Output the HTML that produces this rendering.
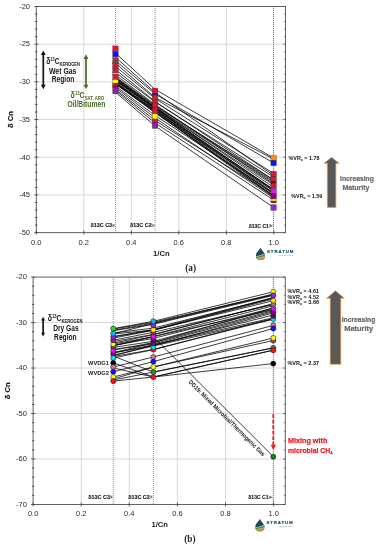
<!DOCTYPE html>
<html lang="en"><head><meta charset="utf-8"><title>Figure</title>
<style>html,body{margin:0;padding:0;background:#fff}svg{display:block}text{font-family:'Liberation Sans', sans-serif}</style>
</head><body>
<svg width="381" height="550" viewBox="0 0 381 550">
<rect width="381" height="550" fill="#fff"/>
<line x1="36.3" x2="285.5" y1="44.18" y2="44.18" stroke="#c8c8c8" stroke-width="0.7"/>
<line x1="36.3" x2="285.5" y1="81.87" y2="81.87" stroke="#c8c8c8" stroke-width="0.7"/>
<line x1="36.3" x2="285.5" y1="119.55" y2="119.55" stroke="#c8c8c8" stroke-width="0.7"/>
<line x1="36.3" x2="285.5" y1="157.23" y2="157.23" stroke="#c8c8c8" stroke-width="0.7"/>
<line x1="36.3" x2="285.5" y1="194.92" y2="194.92" stroke="#c8c8c8" stroke-width="0.7"/>
<line x1="83.80" x2="83.80" y1="6.5" y2="232.6" stroke="#c8c8c8" stroke-width="0.7"/>
<line x1="131.30" x2="131.30" y1="6.5" y2="232.6" stroke="#c8c8c8" stroke-width="0.7"/>
<line x1="178.80" x2="178.80" y1="6.5" y2="232.6" stroke="#c8c8c8" stroke-width="0.7"/>
<line x1="226.30" x2="226.30" y1="6.5" y2="232.6" stroke="#c8c8c8" stroke-width="0.7"/>
<line x1="273.80" x2="273.80" y1="6.5" y2="232.6" stroke="#c8c8c8" stroke-width="0.7"/>
<line x1="115.47" x2="115.47" y1="6.5" y2="232.6" stroke="#4a4a4a" stroke-width="0.62" stroke-dasharray="1 1" stroke-dashoffset="0.50"/>
<line x1="155.05" x2="155.05" y1="6.5" y2="232.6" stroke="#4a4a4a" stroke-width="0.62" stroke-dasharray="1 1" stroke-dashoffset="0.50"/>
<line x1="273.50" x2="273.50" y1="6.5" y2="232.6" stroke="#4a4a4a" stroke-width="0.62" stroke-dasharray="1 1" stroke-dashoffset="0.50"/>
<path d="M36.3 6.5H285.5V232.6H36.3Z" fill="none" stroke="#3a3a3a" stroke-width="0.8"/>
<line x1="34.3" x2="38.3" y1="6.50" y2="6.50" stroke="#3a3a3a" stroke-width="0.8"/>
<line x1="283.5" x2="285.5" y1="6.50" y2="6.50" stroke="#3a3a3a" stroke-width="0.8"/>
<text x="30.0" y="8.8" font-size="7.5" text-anchor="end" font-weight="normal" fill="#2b2b2b" >-20</text>
<line x1="35.099999999999994" x2="37.5" y1="14.04" y2="14.04" stroke="#3a3a3a" stroke-width="0.8"/>
<line x1="284.3" x2="285.5" y1="14.04" y2="14.04" stroke="#3a3a3a" stroke-width="0.8"/>
<line x1="35.099999999999994" x2="37.5" y1="21.57" y2="21.57" stroke="#3a3a3a" stroke-width="0.8"/>
<line x1="284.3" x2="285.5" y1="21.57" y2="21.57" stroke="#3a3a3a" stroke-width="0.8"/>
<line x1="35.099999999999994" x2="37.5" y1="29.11" y2="29.11" stroke="#3a3a3a" stroke-width="0.8"/>
<line x1="284.3" x2="285.5" y1="29.11" y2="29.11" stroke="#3a3a3a" stroke-width="0.8"/>
<line x1="35.099999999999994" x2="37.5" y1="36.65" y2="36.65" stroke="#3a3a3a" stroke-width="0.8"/>
<line x1="284.3" x2="285.5" y1="36.65" y2="36.65" stroke="#3a3a3a" stroke-width="0.8"/>
<line x1="34.3" x2="38.3" y1="44.18" y2="44.18" stroke="#3a3a3a" stroke-width="0.8"/>
<line x1="283.5" x2="285.5" y1="44.18" y2="44.18" stroke="#3a3a3a" stroke-width="0.8"/>
<text x="30.0" y="46.48333333333333" font-size="7.5" text-anchor="end" font-weight="normal" fill="#2b2b2b" >-25</text>
<line x1="35.099999999999994" x2="37.5" y1="51.72" y2="51.72" stroke="#3a3a3a" stroke-width="0.8"/>
<line x1="284.3" x2="285.5" y1="51.72" y2="51.72" stroke="#3a3a3a" stroke-width="0.8"/>
<line x1="35.099999999999994" x2="37.5" y1="59.26" y2="59.26" stroke="#3a3a3a" stroke-width="0.8"/>
<line x1="284.3" x2="285.5" y1="59.26" y2="59.26" stroke="#3a3a3a" stroke-width="0.8"/>
<line x1="35.099999999999994" x2="37.5" y1="66.79" y2="66.79" stroke="#3a3a3a" stroke-width="0.8"/>
<line x1="284.3" x2="285.5" y1="66.79" y2="66.79" stroke="#3a3a3a" stroke-width="0.8"/>
<line x1="35.099999999999994" x2="37.5" y1="74.33" y2="74.33" stroke="#3a3a3a" stroke-width="0.8"/>
<line x1="284.3" x2="285.5" y1="74.33" y2="74.33" stroke="#3a3a3a" stroke-width="0.8"/>
<line x1="34.3" x2="38.3" y1="81.87" y2="81.87" stroke="#3a3a3a" stroke-width="0.8"/>
<line x1="283.5" x2="285.5" y1="81.87" y2="81.87" stroke="#3a3a3a" stroke-width="0.8"/>
<text x="30.0" y="84.16666666666666" font-size="7.5" text-anchor="end" font-weight="normal" fill="#2b2b2b" >-30</text>
<line x1="35.099999999999994" x2="37.5" y1="89.40" y2="89.40" stroke="#3a3a3a" stroke-width="0.8"/>
<line x1="284.3" x2="285.5" y1="89.40" y2="89.40" stroke="#3a3a3a" stroke-width="0.8"/>
<line x1="35.099999999999994" x2="37.5" y1="96.94" y2="96.94" stroke="#3a3a3a" stroke-width="0.8"/>
<line x1="284.3" x2="285.5" y1="96.94" y2="96.94" stroke="#3a3a3a" stroke-width="0.8"/>
<line x1="35.099999999999994" x2="37.5" y1="104.48" y2="104.48" stroke="#3a3a3a" stroke-width="0.8"/>
<line x1="284.3" x2="285.5" y1="104.48" y2="104.48" stroke="#3a3a3a" stroke-width="0.8"/>
<line x1="35.099999999999994" x2="37.5" y1="112.01" y2="112.01" stroke="#3a3a3a" stroke-width="0.8"/>
<line x1="284.3" x2="285.5" y1="112.01" y2="112.01" stroke="#3a3a3a" stroke-width="0.8"/>
<line x1="34.3" x2="38.3" y1="119.55" y2="119.55" stroke="#3a3a3a" stroke-width="0.8"/>
<line x1="283.5" x2="285.5" y1="119.55" y2="119.55" stroke="#3a3a3a" stroke-width="0.8"/>
<text x="30.0" y="121.85" font-size="7.5" text-anchor="end" font-weight="normal" fill="#2b2b2b" >-35</text>
<line x1="35.099999999999994" x2="37.5" y1="127.09" y2="127.09" stroke="#3a3a3a" stroke-width="0.8"/>
<line x1="284.3" x2="285.5" y1="127.09" y2="127.09" stroke="#3a3a3a" stroke-width="0.8"/>
<line x1="35.099999999999994" x2="37.5" y1="134.62" y2="134.62" stroke="#3a3a3a" stroke-width="0.8"/>
<line x1="284.3" x2="285.5" y1="134.62" y2="134.62" stroke="#3a3a3a" stroke-width="0.8"/>
<line x1="35.099999999999994" x2="37.5" y1="142.16" y2="142.16" stroke="#3a3a3a" stroke-width="0.8"/>
<line x1="284.3" x2="285.5" y1="142.16" y2="142.16" stroke="#3a3a3a" stroke-width="0.8"/>
<line x1="35.099999999999994" x2="37.5" y1="149.70" y2="149.70" stroke="#3a3a3a" stroke-width="0.8"/>
<line x1="284.3" x2="285.5" y1="149.70" y2="149.70" stroke="#3a3a3a" stroke-width="0.8"/>
<line x1="34.3" x2="38.3" y1="157.23" y2="157.23" stroke="#3a3a3a" stroke-width="0.8"/>
<line x1="283.5" x2="285.5" y1="157.23" y2="157.23" stroke="#3a3a3a" stroke-width="0.8"/>
<text x="30.0" y="159.53333333333333" font-size="7.5" text-anchor="end" font-weight="normal" fill="#2b2b2b" >-40</text>
<line x1="35.099999999999994" x2="37.5" y1="164.77" y2="164.77" stroke="#3a3a3a" stroke-width="0.8"/>
<line x1="284.3" x2="285.5" y1="164.77" y2="164.77" stroke="#3a3a3a" stroke-width="0.8"/>
<line x1="35.099999999999994" x2="37.5" y1="172.31" y2="172.31" stroke="#3a3a3a" stroke-width="0.8"/>
<line x1="284.3" x2="285.5" y1="172.31" y2="172.31" stroke="#3a3a3a" stroke-width="0.8"/>
<line x1="35.099999999999994" x2="37.5" y1="179.84" y2="179.84" stroke="#3a3a3a" stroke-width="0.8"/>
<line x1="284.3" x2="285.5" y1="179.84" y2="179.84" stroke="#3a3a3a" stroke-width="0.8"/>
<line x1="35.099999999999994" x2="37.5" y1="187.38" y2="187.38" stroke="#3a3a3a" stroke-width="0.8"/>
<line x1="284.3" x2="285.5" y1="187.38" y2="187.38" stroke="#3a3a3a" stroke-width="0.8"/>
<line x1="34.3" x2="38.3" y1="194.92" y2="194.92" stroke="#3a3a3a" stroke-width="0.8"/>
<line x1="283.5" x2="285.5" y1="194.92" y2="194.92" stroke="#3a3a3a" stroke-width="0.8"/>
<text x="30.0" y="197.21666666666667" font-size="7.5" text-anchor="end" font-weight="normal" fill="#2b2b2b" >-45</text>
<line x1="35.099999999999994" x2="37.5" y1="202.45" y2="202.45" stroke="#3a3a3a" stroke-width="0.8"/>
<line x1="284.3" x2="285.5" y1="202.45" y2="202.45" stroke="#3a3a3a" stroke-width="0.8"/>
<line x1="35.099999999999994" x2="37.5" y1="209.99" y2="209.99" stroke="#3a3a3a" stroke-width="0.8"/>
<line x1="284.3" x2="285.5" y1="209.99" y2="209.99" stroke="#3a3a3a" stroke-width="0.8"/>
<line x1="35.099999999999994" x2="37.5" y1="217.53" y2="217.53" stroke="#3a3a3a" stroke-width="0.8"/>
<line x1="284.3" x2="285.5" y1="217.53" y2="217.53" stroke="#3a3a3a" stroke-width="0.8"/>
<line x1="35.099999999999994" x2="37.5" y1="225.06" y2="225.06" stroke="#3a3a3a" stroke-width="0.8"/>
<line x1="284.3" x2="285.5" y1="225.06" y2="225.06" stroke="#3a3a3a" stroke-width="0.8"/>
<line x1="34.3" x2="38.3" y1="232.60" y2="232.60" stroke="#3a3a3a" stroke-width="0.8"/>
<line x1="283.5" x2="285.5" y1="232.60" y2="232.60" stroke="#3a3a3a" stroke-width="0.8"/>
<text x="30.0" y="234.9" font-size="7.5" text-anchor="end" font-weight="normal" fill="#2b2b2b" >-50</text>
<line x1="36.30" x2="36.30" y1="230.6" y2="234.6" stroke="#3a3a3a" stroke-width="0.8"/>
<text x="36.30" y="244.5" font-size="7.5" text-anchor="middle" font-weight="normal" fill="#2b2b2b" >0.0</text>
<line x1="83.80" x2="83.80" y1="230.6" y2="234.6" stroke="#3a3a3a" stroke-width="0.8"/>
<text x="83.80" y="244.5" font-size="7.5" text-anchor="middle" font-weight="normal" fill="#2b2b2b" >0.2</text>
<line x1="131.30" x2="131.30" y1="230.6" y2="234.6" stroke="#3a3a3a" stroke-width="0.8"/>
<text x="131.30" y="244.5" font-size="7.5" text-anchor="middle" font-weight="normal" fill="#2b2b2b" >0.4</text>
<line x1="178.80" x2="178.80" y1="230.6" y2="234.6" stroke="#3a3a3a" stroke-width="0.8"/>
<text x="178.80" y="244.5" font-size="7.5" text-anchor="middle" font-weight="normal" fill="#2b2b2b" >0.6</text>
<line x1="226.30" x2="226.30" y1="230.6" y2="234.6" stroke="#3a3a3a" stroke-width="0.8"/>
<text x="226.30" y="244.5" font-size="7.5" text-anchor="middle" font-weight="normal" fill="#2b2b2b" >0.8</text>
<line x1="273.80" x2="273.80" y1="230.6" y2="234.6" stroke="#3a3a3a" stroke-width="0.8"/>
<text x="273.80" y="244.5" font-size="7.5" text-anchor="middle" font-weight="normal" fill="#2b2b2b" >1.0</text>
<g fill="none" stroke="#050505" stroke-width="0.78" stroke-linejoin="round">
<path d="M115.5 53.0L155.1 89.4L273.6 158.0"/>
<path d="M115.5 57.3L155.1 92.5L273.6 175.5"/>
<path d="M115.5 60.7L155.1 94.0L273.6 163.0"/>
<path d="M115.5 63.3L155.1 97.5L273.6 159.0"/>
<path d="M115.5 66.5L155.1 98.5L273.6 173.5"/>
<path d="M115.5 69.5L155.1 101.5L273.6 180.0"/>
<path d="M115.5 72.5L155.1 102.0L273.6 177.0"/>
<path d="M115.5 75.0L155.1 104.5L273.6 184.0"/>
<path d="M115.5 86.0L155.1 115.5L273.6 193.0"/>
<path d="M115.5 87.5L155.1 118.0L273.6 198.0"/>
<path d="M115.5 89.3L155.1 120.5L273.6 195.5"/>
<path d="M115.5 90.6L155.1 123.0L273.6 200.0"/>
<path d="M115.5 92.3L155.1 126.0L273.6 207.5"/>
<path d="M115.5 76.9L155.1 105.4L273.6 181.4"/>
<path d="M115.5 77.8L155.1 106.1L273.6 179.9"/>
<path d="M115.5 77.6L155.1 107.1L273.6 182.4"/>
<path d="M115.5 78.3L155.1 107.9L273.6 185.0"/>
<path d="M115.5 79.5L155.1 107.2L273.6 187.3"/>
<path d="M115.5 79.2L155.1 108.1L273.6 190.1"/>
<path d="M115.5 80.1L155.1 108.8L273.6 189.5"/>
<path d="M115.5 80.0L155.1 109.4L273.6 189.8"/>
<path d="M115.5 80.7L155.1 108.1L273.6 192.9"/>
<path d="M115.5 81.4L155.1 110.3L273.6 193.9"/>
<path d="M115.5 82.2L155.1 111.3L273.6 191.0"/>
<path d="M115.5 82.8L155.1 110.6L273.6 196.3"/>
<path d="M115.5 83.3L155.1 110.3L273.6 190.8"/>
<path d="M115.5 83.0L155.1 112.9L273.6 194.1"/>
<path d="M115.5 83.9L155.1 111.8L273.6 195.7"/>
<path d="M115.5 84.1L155.1 112.4L273.6 197.2"/>
</g>
<g stroke="#301010" stroke-opacity="0.75" stroke-width="0.38">
<rect x="112.72" y="45.9" width="5.5" height="5.50" fill="#dc143c"/>
<rect x="112.72" y="51.7" width="5.5" height="5.10" fill="#0a14ff"/>
<rect x="112.72" y="57.5" width="5.5" height="5.00" fill="#b22f2f"/>
<rect x="112.72" y="62.5" width="5.5" height="0.90" fill="#008b8b"/>
<rect x="112.72" y="63.4" width="5.5" height="3.10" fill="#dc143c"/>
<rect x="112.72" y="66.5" width="5.5" height="1.70" fill="#ff1010"/>
<rect x="112.72" y="68.2" width="5.5" height="4.70" fill="#dc143c"/>
<rect x="112.72" y="72.9" width="5.5" height="1.40" fill="#e8e000"/>
<rect x="112.72" y="74.3" width="5.5" height="5.20" fill="#dc143c"/>
<rect x="112.72" y="79.5" width="5.5" height="3.80" fill="#ffff00"/>
<rect x="112.72" y="83.3" width="5.5" height="2.10" fill="#dc143c"/>
<rect x="112.72" y="85.4" width="5.5" height="1.80" fill="#8b0a1a"/>
<rect x="112.72" y="87.2" width="5.5" height="6.60" fill="#8a1fb8"/>
</g>
<g stroke="#301010" stroke-opacity="0.75" stroke-width="0.38">
<rect x="152.30" y="88.1" width="5.5" height="5.30" fill="#dc143c"/>
<rect x="152.30" y="93.4" width="5.5" height="1.90" fill="#1a1a80"/>
<rect x="152.30" y="95.3" width="5.5" height="4.80" fill="#b22f2f"/>
<rect x="152.30" y="100.1" width="5.5" height="2.50" fill="#ff1010"/>
<rect x="152.30" y="102.6" width="5.5" height="5.30" fill="#dc143c"/>
<rect x="152.30" y="107.9" width="5.5" height="5.80" fill="#dc143c"/>
<rect x="152.30" y="113.7" width="5.5" height="5.30" fill="#ffff00"/>
<rect x="152.30" y="119.0" width="5.5" height="3.80" fill="#dc143c"/>
<rect x="152.30" y="122.8" width="5.5" height="5.60" fill="#8a1fb8"/>
</g>
<g stroke="#301010" stroke-opacity="0.75" stroke-width="0.38">
<rect x="270.85" y="155.5" width="5.5" height="4.90" fill="#ff8c00"/>
<rect x="270.85" y="160.4" width="5.5" height="5.30" fill="#0a14ff"/>
<rect x="270.85" y="171.3" width="5.5" height="5.50" fill="#dc143c"/>
<rect x="270.85" y="176.8" width="5.5" height="4.70" fill="#b22f2f"/>
<rect x="270.85" y="181.5" width="5.5" height="1.90" fill="#7a0a14"/>
<rect x="270.85" y="183.4" width="5.5" height="5.20" fill="#dc143c"/>
<rect x="270.85" y="188.6" width="5.5" height="1.40" fill="#00d0d0"/>
<rect x="270.85" y="190.0" width="5.5" height="3.80" fill="#ff00ff"/>
<rect x="270.85" y="193.8" width="5.5" height="5.00" fill="#8b008b"/>
<rect x="270.85" y="198.8" width="5.5" height="2.40" fill="#e6d800"/>
<rect x="270.85" y="201.2" width="5.5" height="1.60" fill="#800080"/>
<rect x="270.85" y="204.8" width="5.5" height="5.50" fill="#8a2be2"/>
</g>
<line x1="43.3" x2="43.3" y1="54.6" y2="85.2" stroke="#151515" stroke-width="1.7"/>
<path d="M43.3 50.5L40.9 55.1H45.699999999999996Z M43.3 89.3L40.9 84.7H45.699999999999996Z" fill="#151515"/>
<line x1="86.0" x2="86.0" y1="58.4" y2="85.2" stroke="#456b25" stroke-width="1.7"/>
<path d="M86.0 54.3L83.6 58.9H88.4Z M86.0 89.3L83.6 84.7H88.4Z" fill="#456b25"/>
<text x="46.2" y="64.4" font-size="8.6" font-weight="bold" fill="#151515" text-anchor="start" textLength="33.8" lengthAdjust="spacingAndGlyphs">δ<tspan font-size="4.99" dy="-3.10">13</tspan><tspan dy="3.10">C</tspan><tspan font-size="5.16" dy="1.38">KEROGEN</tspan></text>
<text x="62.7" y="74.0" font-size="8.6" text-anchor="middle" font-weight="bold" fill="#151515" textLength="27.4" lengthAdjust="spacingAndGlyphs" >Wet Gas</text>
<text x="63.0" y="82.1" font-size="8.6" text-anchor="middle" font-weight="bold" fill="#151515" textLength="22.5" lengthAdjust="spacingAndGlyphs" >Region</text>
<text x="70.6" y="98.2" font-size="8.6" font-weight="bold" fill="#456b25" text-anchor="start" textLength="33.6" lengthAdjust="spacingAndGlyphs">δ<tspan font-size="4.99" dy="-3.10">13</tspan><tspan dy="3.10">C</tspan><tspan font-size="5.16" dy="1.38">SAT, ARO</tspan></text>
<text x="86.4" y="106.6" font-size="8.6" text-anchor="middle" font-weight="bold" fill="#456b25" textLength="37.8" lengthAdjust="spacingAndGlyphs" >Oil/Bitumen</text>
<text x="0" y="0" font-size="7.6" text-anchor="middle" font-weight="bold" fill="#222" transform="translate(12.9 119.6) rotate(-90)" stroke="#222" stroke-width="0.2">δ Cn</text>
<text x="161.3" y="256.0" font-size="7.6" text-anchor="middle" font-weight="bold" fill="#222" >1/Cn</text>
<text x="90.50" y="227.3" font-size="5.2" text-anchor="start" font-weight="bold" fill="#1a1a1a" textLength="21.6" lengthAdjust="spacingAndGlyphs" stroke="#1a1a1a" stroke-width="0.12">δ13C C3</text>
<path d="M112.60 223.85V227.25" stroke="#555" stroke-width="0.45" fill="none"/>
<path d="M113.00 223.85L115.20 225.55L113.00 227.25Z" fill="#777"/>
<text x="130.10" y="227.3" font-size="5.2" text-anchor="start" font-weight="bold" fill="#1a1a1a" textLength="21.6" lengthAdjust="spacingAndGlyphs" stroke="#1a1a1a" stroke-width="0.12">δ13C C2</text>
<path d="M152.20 223.85V227.25" stroke="#555" stroke-width="0.45" fill="none"/>
<path d="M152.60 223.85L154.80 225.55L152.60 227.25Z" fill="#777"/>
<text x="248.70" y="227.5" font-size="5.2" text-anchor="start" font-weight="bold" fill="#1a1a1a" textLength="20.2" lengthAdjust="spacingAndGlyphs" stroke="#1a1a1a" stroke-width="0.12">δ13C C1</text>
<path d="M269.40 224.05V227.45" stroke="#555" stroke-width="0.45" fill="none"/>
<path d="M269.80 224.05L273.40 225.75L269.80 227.45Z" fill="#777"/>
<text x="288.5" y="159.8" font-size="5.9" font-weight="bold" fill="#111" textLength="31.0" lengthAdjust="spacingAndGlyphs">%VR<tspan font-size="3.7" dy="1.0">o</tspan><tspan dy="-1.0"> = 1.78</tspan></text>
<text x="291.3" y="197.9" font-size="5.9" font-weight="bold" fill="#111" textLength="31.0" lengthAdjust="spacingAndGlyphs">%VR<tspan font-size="3.7" dy="1.0">o</tspan><tspan dy="-1.0"> = 1.59</tspan></text>
<path d="M331.6 157.3L339.20000000000005 163.3H335.90000000000003V207.4H327.3V163.3H324.0Z" fill="#585858" stroke="#ea9c55" stroke-width="0.75" stroke-linejoin="miter"/>
<text x="356.9" y="180.8" font-size="8.0" text-anchor="middle" font-weight="bold" fill="#666" textLength="33.7" lengthAdjust="spacingAndGlyphs" stroke="#666" stroke-width="0.2">Increasing</text>
<text x="355.9" y="189.7" font-size="8.0" text-anchor="middle" font-weight="bold" fill="#666" textLength="27.0" lengthAdjust="spacingAndGlyphs" stroke="#666" stroke-width="0.2">Maturity</text>
<g transform="translate(255.7 247.6)">
<clipPath id="dc247"><path d="M4.75 0C6.2 3.2 9.5 5.4 9.5 8.3A4.75 4.4 0 0 1 0 8.3C0 5.4 3.3 3.2 4.75 0Z"/></clipPath>
<g clip-path="url(#dc247)">
<rect x="0" y="0" width="9.5" height="13" fill="#1d4a55"/>
<path d="M-1 9.2C3 8.6 6.5 7.4 10.5 5.6V8.2C6.5 9.9 3 10.8 -1 11.2Z" fill="#3f9b4a"/>
<path d="M-1 11.2C3 10.8 6.5 9.9 10.5 8.2V13H-1Z" fill="#e8792b"/>
<path d="M-1 9.2C3 8.6 6.5 7.4 10.5 5.6" stroke="#fff" stroke-width="0.5" fill="none"/>
<path d="M-1 11.2C3 10.8 6.5 9.9 10.5 8.2" stroke="#fff" stroke-width="0.45" fill="none"/>
</g>
<text x="11.4" y="5.7" font-size="4.3" font-weight="bold" fill="#174f60" stroke="#174f60" stroke-width="0.18" textLength="26.2" lengthAdjust="spacing">STRATUM</text>
<text x="22.8" y="8.2" font-size="1.7" fill="#8fa9b0" textLength="14.6" lengthAdjust="spacingAndGlyphs">RESERVOIR</text>
</g>
<text x="190.7" y="270.5" font-size="9.3" font-weight="bold" text-anchor="middle" fill="#222" style="font-family:'Liberation Serif',serif">(a)</text>
<line x1="33.1" x2="285.3" y1="322.58" y2="322.58" stroke="#c8c8c8" stroke-width="0.7"/>
<line x1="33.1" x2="285.3" y1="368.06" y2="368.06" stroke="#c8c8c8" stroke-width="0.7"/>
<line x1="33.1" x2="285.3" y1="413.54" y2="413.54" stroke="#c8c8c8" stroke-width="0.7"/>
<line x1="33.1" x2="285.3" y1="459.02" y2="459.02" stroke="#c8c8c8" stroke-width="0.7"/>
<line x1="81.20" x2="81.20" y1="277.1" y2="504.5" stroke="#c8c8c8" stroke-width="0.7"/>
<line x1="129.30" x2="129.30" y1="277.1" y2="504.5" stroke="#c8c8c8" stroke-width="0.7"/>
<line x1="177.40" x2="177.40" y1="277.1" y2="504.5" stroke="#c8c8c8" stroke-width="0.7"/>
<line x1="225.50" x2="225.50" y1="277.1" y2="504.5" stroke="#c8c8c8" stroke-width="0.7"/>
<line x1="273.60" x2="273.60" y1="277.1" y2="504.5" stroke="#c8c8c8" stroke-width="0.7"/>
<line x1="113.27" x2="113.27" y1="277.1" y2="504.5" stroke="#4a4a4a" stroke-width="0.62" stroke-dasharray="1 1" stroke-dashoffset="0.10"/>
<line x1="153.35" x2="153.35" y1="277.1" y2="504.5" stroke="#4a4a4a" stroke-width="0.62" stroke-dasharray="1 1" stroke-dashoffset="0.10"/>
<line x1="273.30" x2="273.30" y1="277.1" y2="504.5" stroke="#4a4a4a" stroke-width="0.62" stroke-dasharray="1 1" stroke-dashoffset="0.10"/>
<path d="M33.1 277.1H285.3V504.5H33.1Z" fill="none" stroke="#3a3a3a" stroke-width="0.8"/>
<line x1="31.1" x2="35.1" y1="277.10" y2="277.10" stroke="#3a3a3a" stroke-width="0.8"/>
<line x1="283.3" x2="285.3" y1="277.10" y2="277.10" stroke="#3a3a3a" stroke-width="0.8"/>
<text x="26.9" y="279.40000000000003" font-size="7.5" text-anchor="end" font-weight="normal" fill="#2b2b2b" >-20</text>
<line x1="31.900000000000002" x2="34.300000000000004" y1="286.20" y2="286.20" stroke="#3a3a3a" stroke-width="0.8"/>
<line x1="284.1" x2="285.3" y1="286.20" y2="286.20" stroke="#3a3a3a" stroke-width="0.8"/>
<line x1="31.900000000000002" x2="34.300000000000004" y1="295.29" y2="295.29" stroke="#3a3a3a" stroke-width="0.8"/>
<line x1="284.1" x2="285.3" y1="295.29" y2="295.29" stroke="#3a3a3a" stroke-width="0.8"/>
<line x1="31.900000000000002" x2="34.300000000000004" y1="304.39" y2="304.39" stroke="#3a3a3a" stroke-width="0.8"/>
<line x1="284.1" x2="285.3" y1="304.39" y2="304.39" stroke="#3a3a3a" stroke-width="0.8"/>
<line x1="31.900000000000002" x2="34.300000000000004" y1="313.48" y2="313.48" stroke="#3a3a3a" stroke-width="0.8"/>
<line x1="284.1" x2="285.3" y1="313.48" y2="313.48" stroke="#3a3a3a" stroke-width="0.8"/>
<line x1="31.1" x2="35.1" y1="322.58" y2="322.58" stroke="#3a3a3a" stroke-width="0.8"/>
<line x1="283.3" x2="285.3" y1="322.58" y2="322.58" stroke="#3a3a3a" stroke-width="0.8"/>
<text x="26.9" y="324.88000000000005" font-size="7.5" text-anchor="end" font-weight="normal" fill="#2b2b2b" >-30</text>
<line x1="31.900000000000002" x2="34.300000000000004" y1="331.68" y2="331.68" stroke="#3a3a3a" stroke-width="0.8"/>
<line x1="284.1" x2="285.3" y1="331.68" y2="331.68" stroke="#3a3a3a" stroke-width="0.8"/>
<line x1="31.900000000000002" x2="34.300000000000004" y1="340.77" y2="340.77" stroke="#3a3a3a" stroke-width="0.8"/>
<line x1="284.1" x2="285.3" y1="340.77" y2="340.77" stroke="#3a3a3a" stroke-width="0.8"/>
<line x1="31.900000000000002" x2="34.300000000000004" y1="349.87" y2="349.87" stroke="#3a3a3a" stroke-width="0.8"/>
<line x1="284.1" x2="285.3" y1="349.87" y2="349.87" stroke="#3a3a3a" stroke-width="0.8"/>
<line x1="31.900000000000002" x2="34.300000000000004" y1="358.96" y2="358.96" stroke="#3a3a3a" stroke-width="0.8"/>
<line x1="284.1" x2="285.3" y1="358.96" y2="358.96" stroke="#3a3a3a" stroke-width="0.8"/>
<line x1="31.1" x2="35.1" y1="368.06" y2="368.06" stroke="#3a3a3a" stroke-width="0.8"/>
<line x1="283.3" x2="285.3" y1="368.06" y2="368.06" stroke="#3a3a3a" stroke-width="0.8"/>
<text x="26.9" y="370.36" font-size="7.5" text-anchor="end" font-weight="normal" fill="#2b2b2b" >-40</text>
<line x1="31.900000000000002" x2="34.300000000000004" y1="377.16" y2="377.16" stroke="#3a3a3a" stroke-width="0.8"/>
<line x1="284.1" x2="285.3" y1="377.16" y2="377.16" stroke="#3a3a3a" stroke-width="0.8"/>
<line x1="31.900000000000002" x2="34.300000000000004" y1="386.25" y2="386.25" stroke="#3a3a3a" stroke-width="0.8"/>
<line x1="284.1" x2="285.3" y1="386.25" y2="386.25" stroke="#3a3a3a" stroke-width="0.8"/>
<line x1="31.900000000000002" x2="34.300000000000004" y1="395.35" y2="395.35" stroke="#3a3a3a" stroke-width="0.8"/>
<line x1="284.1" x2="285.3" y1="395.35" y2="395.35" stroke="#3a3a3a" stroke-width="0.8"/>
<line x1="31.900000000000002" x2="34.300000000000004" y1="404.44" y2="404.44" stroke="#3a3a3a" stroke-width="0.8"/>
<line x1="284.1" x2="285.3" y1="404.44" y2="404.44" stroke="#3a3a3a" stroke-width="0.8"/>
<line x1="31.1" x2="35.1" y1="413.54" y2="413.54" stroke="#3a3a3a" stroke-width="0.8"/>
<line x1="283.3" x2="285.3" y1="413.54" y2="413.54" stroke="#3a3a3a" stroke-width="0.8"/>
<text x="26.9" y="415.84" font-size="7.5" text-anchor="end" font-weight="normal" fill="#2b2b2b" >-50</text>
<line x1="31.900000000000002" x2="34.300000000000004" y1="422.64" y2="422.64" stroke="#3a3a3a" stroke-width="0.8"/>
<line x1="284.1" x2="285.3" y1="422.64" y2="422.64" stroke="#3a3a3a" stroke-width="0.8"/>
<line x1="31.900000000000002" x2="34.300000000000004" y1="431.73" y2="431.73" stroke="#3a3a3a" stroke-width="0.8"/>
<line x1="284.1" x2="285.3" y1="431.73" y2="431.73" stroke="#3a3a3a" stroke-width="0.8"/>
<line x1="31.900000000000002" x2="34.300000000000004" y1="440.83" y2="440.83" stroke="#3a3a3a" stroke-width="0.8"/>
<line x1="284.1" x2="285.3" y1="440.83" y2="440.83" stroke="#3a3a3a" stroke-width="0.8"/>
<line x1="31.900000000000002" x2="34.300000000000004" y1="449.92" y2="449.92" stroke="#3a3a3a" stroke-width="0.8"/>
<line x1="284.1" x2="285.3" y1="449.92" y2="449.92" stroke="#3a3a3a" stroke-width="0.8"/>
<line x1="31.1" x2="35.1" y1="459.02" y2="459.02" stroke="#3a3a3a" stroke-width="0.8"/>
<line x1="283.3" x2="285.3" y1="459.02" y2="459.02" stroke="#3a3a3a" stroke-width="0.8"/>
<text x="26.9" y="461.32" font-size="7.5" text-anchor="end" font-weight="normal" fill="#2b2b2b" >-60</text>
<line x1="31.900000000000002" x2="34.300000000000004" y1="468.12" y2="468.12" stroke="#3a3a3a" stroke-width="0.8"/>
<line x1="284.1" x2="285.3" y1="468.12" y2="468.12" stroke="#3a3a3a" stroke-width="0.8"/>
<line x1="31.900000000000002" x2="34.300000000000004" y1="477.21" y2="477.21" stroke="#3a3a3a" stroke-width="0.8"/>
<line x1="284.1" x2="285.3" y1="477.21" y2="477.21" stroke="#3a3a3a" stroke-width="0.8"/>
<line x1="31.900000000000002" x2="34.300000000000004" y1="486.31" y2="486.31" stroke="#3a3a3a" stroke-width="0.8"/>
<line x1="284.1" x2="285.3" y1="486.31" y2="486.31" stroke="#3a3a3a" stroke-width="0.8"/>
<line x1="31.900000000000002" x2="34.300000000000004" y1="495.40" y2="495.40" stroke="#3a3a3a" stroke-width="0.8"/>
<line x1="284.1" x2="285.3" y1="495.40" y2="495.40" stroke="#3a3a3a" stroke-width="0.8"/>
<line x1="31.1" x2="35.1" y1="504.50" y2="504.50" stroke="#3a3a3a" stroke-width="0.8"/>
<line x1="283.3" x2="285.3" y1="504.50" y2="504.50" stroke="#3a3a3a" stroke-width="0.8"/>
<text x="26.9" y="506.8" font-size="7.5" text-anchor="end" font-weight="normal" fill="#2b2b2b" >-70</text>
<line x1="33.10" x2="33.10" y1="502.5" y2="506.5" stroke="#3a3a3a" stroke-width="0.8"/>
<text x="33.10" y="516.4" font-size="7.5" text-anchor="middle" font-weight="normal" fill="#2b2b2b" >0.0</text>
<line x1="81.20" x2="81.20" y1="502.5" y2="506.5" stroke="#3a3a3a" stroke-width="0.8"/>
<text x="81.20" y="516.4" font-size="7.5" text-anchor="middle" font-weight="normal" fill="#2b2b2b" >0.2</text>
<line x1="129.30" x2="129.30" y1="502.5" y2="506.5" stroke="#3a3a3a" stroke-width="0.8"/>
<text x="129.30" y="516.4" font-size="7.5" text-anchor="middle" font-weight="normal" fill="#2b2b2b" >0.4</text>
<line x1="177.40" x2="177.40" y1="502.5" y2="506.5" stroke="#3a3a3a" stroke-width="0.8"/>
<text x="177.40" y="516.4" font-size="7.5" text-anchor="middle" font-weight="normal" fill="#2b2b2b" >0.6</text>
<line x1="225.50" x2="225.50" y1="502.5" y2="506.5" stroke="#3a3a3a" stroke-width="0.8"/>
<text x="225.50" y="516.4" font-size="7.5" text-anchor="middle" font-weight="normal" fill="#2b2b2b" >0.8</text>
<line x1="273.60" x2="273.60" y1="502.5" y2="506.5" stroke="#3a3a3a" stroke-width="0.8"/>
<text x="273.60" y="516.4" font-size="7.5" text-anchor="middle" font-weight="normal" fill="#2b2b2b" >1.0</text>
<g fill="none" stroke="#050505" stroke-width="0.78" stroke-linejoin="round">
<path d="M113.3 329.1L153.4 322.2L273.3 294.7"/>
<path d="M113.3 330.3L153.4 323.1L273.3 294.0"/>
<path d="M113.3 330.7L153.4 324.3L273.3 295.4"/>
<path d="M113.3 333.8L153.4 323.6L273.3 294.7"/>
<path d="M113.3 332.9L153.4 328.1L273.3 298.0"/>
<path d="M113.3 334.0L153.4 330.0L273.3 300.7"/>
<path d="M113.3 337.0L153.4 329.5L273.3 297.4"/>
<path d="M113.3 336.4L153.4 330.3L273.3 298.0"/>
<path d="M113.3 338.1L153.4 330.2L273.3 299.0"/>
<path d="M113.3 340.2L153.4 332.3L273.3 304.6"/>
<path d="M113.3 341.6L153.4 334.4L273.3 303.8"/>
<path d="M113.3 343.2L153.4 334.8L273.3 303.8"/>
<path d="M113.3 345.4L153.4 338.4L273.3 308.0"/>
<path d="M113.3 345.8L153.4 336.5L273.3 305.8"/>
<path d="M113.3 345.8L153.4 336.6L273.3 309.9"/>
<path d="M113.3 347.4L153.4 341.3L273.3 308.9"/>
<path d="M113.3 350.2L153.4 342.5L273.3 308.0"/>
<path d="M113.3 349.3L153.4 344.0L273.3 311.7"/>
<path d="M113.3 352.8L153.4 342.8L273.3 310.6"/>
<path d="M113.3 353.0L153.4 345.7L273.3 312.9"/>
<path d="M113.3 352.6L153.4 344.9L273.3 317.8"/>
<path d="M113.3 355.8L153.4 345.1L273.3 315.0"/>
<path d="M113.3 355.1L153.4 346.0L273.3 319.2"/>
<path d="M113.3 356.5L153.4 349.5L273.3 318.4"/>
<path d="M113.3 328.6L153.4 321.3L273.3 291.8"/>
<path d="M113.3 358.0L153.4 349.6L273.3 319.1"/>
<path d="M113.3 367.0L153.4 357.0L273.3 325.4"/>
<path d="M113.3 371.7L153.4 361.6L273.3 328.5"/>
<path d="M113.3 377.0L153.4 367.0L273.3 338.0"/>
<path d="M113.3 379.0L153.4 367.0L273.3 340.5"/>
<path d="M113.3 380.0L153.4 372.1L273.3 347.9"/>
<path d="M113.3 381.1L153.4 377.0L273.3 350.2"/>
<path d="M113.3 362.9L153.4 377.0L273.3 363.6"/>
<path d="M113.3 368.0L153.4 377.0L273.3 350.2"/>
<path d="M113.3 356.0L153.4 372.1L273.3 347.9"/>
<path d="M113.3 344.0L153.4 336.9L273.3 456.6"/>
</g>
<g stroke="#111" stroke-width="0.55">
<circle cx="113.27" cy="347.0" r="2.55" fill="#555"/>
<circle cx="113.27" cy="353.9" r="2.55" fill="#800080"/>
<circle cx="113.27" cy="350.7" r="2.55" fill="#ff00ff"/>
<circle cx="113.27" cy="344.0" r="2.55" fill="#ffff00"/>
<circle cx="113.27" cy="340.2" r="2.55" fill="#8b1fa8"/>
<circle cx="113.27" cy="337.0" r="2.55" fill="#8a2be2"/>
<circle cx="113.27" cy="333.5" r="2.55" fill="#1eb4f0"/>
<circle cx="113.27" cy="328.6" r="2.55" fill="#22e022"/>
<circle cx="113.27" cy="358.0" r="2.55" fill="#00e5ee"/>
<circle cx="113.27" cy="362.9" r="2.55" fill="#000"/>
<circle cx="113.27" cy="367.0" r="2.55" fill="#db7093"/>
<circle cx="113.27" cy="371.7" r="2.55" fill="#0a14ff"/>
<circle cx="113.27" cy="377.0" r="2.55" fill="#ffff00"/>
<circle cx="113.27" cy="381.1" r="2.55" fill="#ff1010"/>
</g>
<g stroke="#111" stroke-width="0.55">
<circle cx="153.35" cy="349.6" r="2.55" fill="#ff1010"/>
<circle cx="153.35" cy="347.1" r="2.55" fill="#00e5ee"/>
<circle cx="153.35" cy="343.3" r="2.55" fill="#8b008b"/>
<circle cx="153.35" cy="340.0" r="2.55" fill="#5a1060"/>
<circle cx="153.35" cy="332.8" r="2.55" fill="#dc143c"/>
<circle cx="153.35" cy="336.6" r="2.55" fill="#ff00ff"/>
<circle cx="153.35" cy="329.7" r="2.55" fill="#ffff00"/>
<circle cx="153.35" cy="325.5" r="2.55" fill="#8a2be2"/>
<circle cx="153.35" cy="321.3" r="2.55" fill="#1eb4f0"/>
<circle cx="153.35" cy="357.0" r="2.55" fill="#db7093"/>
<circle cx="153.35" cy="361.6" r="2.55" fill="#0a14ff"/>
<circle cx="153.35" cy="367.0" r="2.55" fill="#ffff00"/>
<circle cx="153.35" cy="372.1" r="2.55" fill="#2e8b57"/>
<circle cx="153.35" cy="377.0" r="2.55" fill="#ff1010"/>
</g>
<g stroke="#111" stroke-width="0.55">
<circle cx="273.30" cy="319.1" r="2.55" fill="#00e5ee"/>
<circle cx="273.30" cy="316.0" r="2.55" fill="#5a1060"/>
<circle cx="273.30" cy="312.4" r="2.55" fill="#8b008b"/>
<circle cx="273.30" cy="308.6" r="2.55" fill="#ff00ff"/>
<circle cx="273.30" cy="304.4" r="2.55" fill="#808080"/>
<circle cx="273.30" cy="300.6" r="2.55" fill="#ffd700"/>
<circle cx="273.30" cy="291.8" r="2.55" fill="#ffff00"/>
<circle cx="273.30" cy="295.4" r="2.55" fill="#8a2be2"/>
<circle cx="273.30" cy="325.4" r="2.55" fill="#db7093"/>
<circle cx="273.30" cy="328.5" r="2.55" fill="#0a14ff"/>
<circle cx="273.30" cy="340.5" r="2.55" fill="#a030c0"/>
<circle cx="273.30" cy="338.0" r="2.55" fill="#ffff00"/>
<circle cx="273.30" cy="347.9" r="2.55" fill="#2e8b57"/>
<circle cx="273.30" cy="350.2" r="2.55" fill="#ff1010"/>
<circle cx="273.30" cy="363.6" r="2.55" fill="#000"/>
<circle cx="273.30" cy="456.7" r="2.55" fill="#128212"/>
</g>
<line x1="43.1" x2="43.1" y1="320.1" y2="333.2" stroke="#151515" stroke-width="1.7"/>
<path d="M43.1 316.8L41.1 320.6H45.1Z M43.1 336.5L41.1 332.7H45.1Z" fill="#151515"/>
<text x="47.8" y="321.4" font-size="8.3" font-weight="bold" fill="#151515" text-anchor="start" textLength="34.7" lengthAdjust="spacingAndGlyphs">δ<tspan font-size="4.81" dy="-2.99">13</tspan><tspan dy="2.99">C</tspan><tspan font-size="4.98" dy="1.33">KEROGEN</tspan></text>
<text x="65.9" y="330.5" font-size="8.3" text-anchor="middle" font-weight="bold" fill="#151515" textLength="25.5" lengthAdjust="spacingAndGlyphs" >Dry Gas</text>
<text x="65.4" y="339.7" font-size="8.3" text-anchor="middle" font-weight="bold" fill="#151515" textLength="22.6" lengthAdjust="spacingAndGlyphs" >Region</text>
<text x="109.0" y="364.9" font-size="5.6" text-anchor="end" font-weight="bold" fill="#222" textLength="21.0" lengthAdjust="spacingAndGlyphs" >WVDG1</text>
<text x="109.0" y="374.5" font-size="5.6" text-anchor="end" font-weight="bold" fill="#222" textLength="21.0" lengthAdjust="spacingAndGlyphs" >WVDG2</text>
<text x="0" y="0" font-size="7.6" text-anchor="middle" font-weight="bold" fill="#222" transform="translate(10.1 390.8) rotate(-90)" stroke="#222" stroke-width="0.2">δ Cn</text>
<text x="159.7" y="526.7" font-size="7.6" text-anchor="middle" font-weight="bold" fill="#222" >1/Cn</text>
<text x="88.30" y="498.8" font-size="5.2" text-anchor="start" font-weight="bold" fill="#1a1a1a" textLength="21.6" lengthAdjust="spacingAndGlyphs" stroke="#1a1a1a" stroke-width="0.12">δ13C C3</text>
<path d="M110.40 495.35V498.75" stroke="#555" stroke-width="0.45" fill="none"/>
<path d="M110.80 495.35L113.00 497.05L110.80 498.75Z" fill="#777"/>
<text x="128.20" y="498.8" font-size="5.2" text-anchor="start" font-weight="bold" fill="#1a1a1a" textLength="21.6" lengthAdjust="spacingAndGlyphs" stroke="#1a1a1a" stroke-width="0.12">δ13C C2</text>
<path d="M150.30 495.35V498.75" stroke="#555" stroke-width="0.45" fill="none"/>
<path d="M150.70 495.35L152.90 497.05L150.70 498.75Z" fill="#777"/>
<text x="248.30" y="499.1" font-size="5.2" text-anchor="start" font-weight="bold" fill="#1a1a1a" textLength="20.2" lengthAdjust="spacingAndGlyphs" stroke="#1a1a1a" stroke-width="0.12">δ13C C1</text>
<path d="M269.00 495.65V499.05" stroke="#555" stroke-width="0.45" fill="none"/>
<path d="M269.40 495.65L273.10 497.35L269.40 499.05Z" fill="#777"/>
<text x="287.4" y="292.6" font-size="5.9" font-weight="bold" fill="#111" textLength="31.6" lengthAdjust="spacingAndGlyphs">%VR<tspan font-size="3.7" dy="1.0">o</tspan><tspan dy="-1.0"> = 4.61</tspan></text>
<text x="287.4" y="298.5" font-size="5.9" font-weight="bold" fill="#111" textLength="31.6" lengthAdjust="spacingAndGlyphs">%VR<tspan font-size="3.7" dy="1.0">o</tspan><tspan dy="-1.0"> = 4.52</tspan></text>
<text x="287.4" y="304.3" font-size="5.9" font-weight="bold" fill="#111" textLength="31.6" lengthAdjust="spacingAndGlyphs">%VR<tspan font-size="3.7" dy="1.0">o</tspan><tspan dy="-1.0"> = 3.66</tspan></text>
<text x="287.4" y="365.4" font-size="5.9" font-weight="bold" fill="#111" textLength="31.6" lengthAdjust="spacingAndGlyphs">%VR<tspan font-size="3.7" dy="1.0">o</tspan><tspan dy="-1.0"> = 2.37</tspan></text>
<path d="M335.5 290.8L344.3 298.2H340.8V364.3H330.2V298.2H326.7Z" fill="#585858" stroke="#ea9c55" stroke-width="0.75" stroke-linejoin="miter"/>
<text x="358.5" y="322.3" font-size="8.0" text-anchor="middle" font-weight="bold" fill="#666" textLength="33.5" lengthAdjust="spacingAndGlyphs" stroke="#666" stroke-width="0.2">Increasing</text>
<text x="358.7" y="331.2" font-size="8.0" text-anchor="middle" font-weight="bold" fill="#666" textLength="29.0" lengthAdjust="spacingAndGlyphs" stroke="#666" stroke-width="0.2">Maturity</text>
<text font-size="6.1" font-weight="bold" fill="#222" textLength="105" lengthAdjust="spacingAndGlyphs" transform="translate(188.2 382.6) rotate(44.8)">DG19: Mixed Microbial/Thermogenic Gas</text>
<line x1="273.3" x2="273.3" y1="414.2" y2="446.0" stroke="#ee1c25" stroke-width="1.8" stroke-dasharray="3.9 1.6"/>
<path d="M273.3 450.0L270.6 444.8H276.0Z" fill="#ee1c25"/>
<text x="288.0" y="443.2" font-size="7.6" text-anchor="start" font-weight="bold" fill="#ee1c25" textLength="39.3" lengthAdjust="spacingAndGlyphs" stroke="#ee1c25" stroke-width="0.25">Mixing with</text>
<text x="288.0" y="452.8" font-size="7.6" font-weight="bold" fill="#ee1c25" stroke="#ee1c25" stroke-width="0.25" textLength="44.4" lengthAdjust="spacingAndGlyphs">microbial CH<tspan font-size="4.4" dy="1.4">4</tspan></text>
<g transform="translate(255.1 518.8)">
<clipPath id="dc518"><path d="M4.75 0C6.2 3.2 9.5 5.4 9.5 8.3A4.75 4.4 0 0 1 0 8.3C0 5.4 3.3 3.2 4.75 0Z"/></clipPath>
<g clip-path="url(#dc518)">
<rect x="0" y="0" width="9.5" height="13" fill="#1d4a55"/>
<path d="M-1 9.2C3 8.6 6.5 7.4 10.5 5.6V8.2C6.5 9.9 3 10.8 -1 11.2Z" fill="#3f9b4a"/>
<path d="M-1 11.2C3 10.8 6.5 9.9 10.5 8.2V13H-1Z" fill="#e8792b"/>
<path d="M-1 9.2C3 8.6 6.5 7.4 10.5 5.6" stroke="#fff" stroke-width="0.5" fill="none"/>
<path d="M-1 11.2C3 10.8 6.5 9.9 10.5 8.2" stroke="#fff" stroke-width="0.45" fill="none"/>
</g>
<text x="11.4" y="5.7" font-size="4.3" font-weight="bold" fill="#174f60" stroke="#174f60" stroke-width="0.18" textLength="26.2" lengthAdjust="spacing">STRATUM</text>
<text x="22.8" y="8.2" font-size="1.7" fill="#8fa9b0" textLength="14.6" lengthAdjust="spacingAndGlyphs">RESERVOIR</text>
</g>
<text x="189.9" y="542.4" font-size="9.3" font-weight="bold" text-anchor="middle" fill="#222" style="font-family:'Liberation Serif',serif">(b)</text>
</svg>
</body></html>
